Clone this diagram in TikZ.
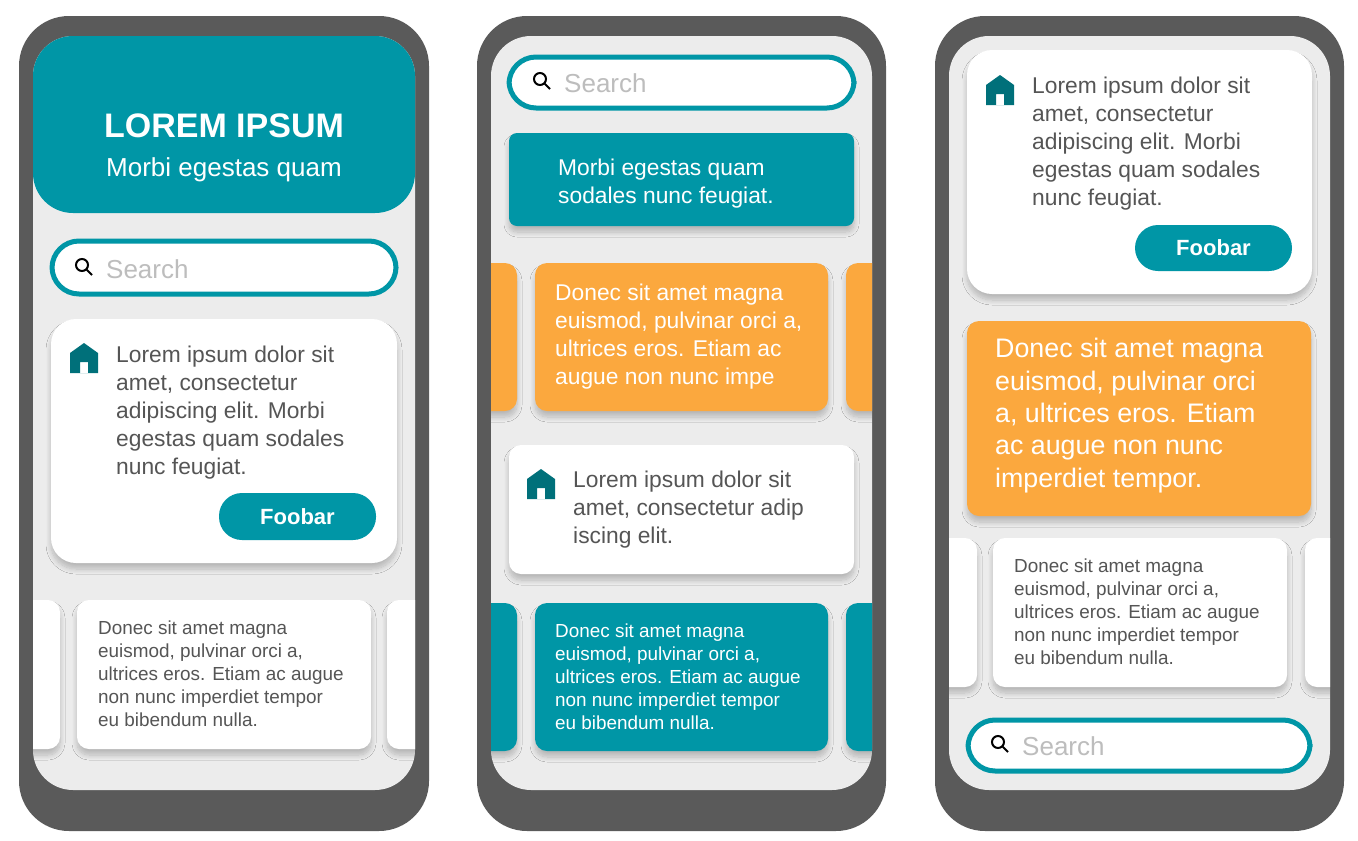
\documentclass[tikz,border=0pt]{standalone}
\usepackage{fontspec}
\setmainfont{Liberation Sans}
\usetikzlibrary{shadows.blur}
\definecolor{teal1}{HTML}{0096A6}
\definecolor{tealdk}{HTML}{00707A}
\definecolor{orng}{HTML}{FBA83E}
\definecolor{phone}{HTML}{5A5A5A}
\definecolor{scr}{HTML}{ECECEC}
\definecolor{txt}{HTML}{555555}
\definecolor{ph}{HTML}{BDBDBD}
\tikzset{
  body/.style={fill=phone,rounded corners=50},
  screen/.style={fill=scr,rounded corners=40},
  shd/.style={blur shadow={shadow xshift=0pt,shadow yshift=-6pt,shadow blur radius=5pt,shadow blur steps=10,shadow opacity=22}},
  card/.style={fill=white,rounded corners=25,shd},
  tcard/.style={fill=#1,rounded corners=12,shd},
  sbox/.style={draw=teal1,line width=5pt,fill=white,rounded corners=27},
  btn/.style={fill=teal1,rounded corners=23},
  tx/.style={anchor=base west,align=left,inner sep=0,text=txt},
  wt/.style={anchor=base west,align=left,inner sep=0,text=white},
  big/.style={font=\fontsize{22.8}{28}\selectfont},
  small/.style={font=\fontsize{18.9}{23}\selectfont},
  huge/.style={font=\fontsize{26.8}{32.3}\selectfont},
  stxt/.style={anchor=base west,inner sep=0,text=ph,font=\fontsize{26}{30}\selectfont},
}
\newcommand{\myhouse}[2]{\fill[tealdk,even odd rule] (#1,#2-15) -- (#1+14,#2-5) -- (#1+14,#2+15) -- (#1-14,#2+15) -- (#1-14,#2-5) -- cycle (#1-4,#2+4) rectangle (#1+4,#2+15);}
\newcommand{\mymag}[2]{\draw[line width=2pt,black] (#1-2,#2-3) circle (6) (#1+2,#2+1) -- (#1+8,#2+7);}
\begin{document}
\begin{tikzpicture}[x=1pt,y=-1pt]
\useasboundingbox (0,0) rectangle (1358,841);
\fill[white] (0,0) rectangle (1358,841);
% ===== Phone 1
\fill[body] (19,16) rectangle (429,831);
\fill[screen] (33,36) rectangle (415,790);
\fill[teal1,rounded corners=40] (33,36) rectangle (415,213);
\node[text=white,font=\bfseries\fontsize{34}{40}\selectfont] (t1) at (224,126) {LOREM IPSUM};
\node[text=white,font=\fontsize{26}{30}\selectfont] (t2) at (224,170) {Morbi egestas quam};
\draw[sbox] (52,241) rectangle (396,294);
\mymag{84}{268}
\node[stxt] (s1) at (106,278) {Search};
\fill[card] (51,319) rectangle (397,563);
\myhouse{84}{358}
\node[tx,big] (c1) at (116,474) {Lorem ipsum dolor sit\\amet, consectetur\\adipiscing elit. Morbi\\egestas quam sodales\\nunc feugiat.};
\fill[btn] (219,493) rectangle (376,540);
\node[text=white,font=\bfseries\fontsize{22}{26}\selectfont] (b1) at (297.5,517) {Foobar};
\begin{scope}
\clip[rounded corners=40] (33,36) rectangle (415,790);
\fill[tcard=white] (10,600) rectangle (60,749);
\fill[tcard=white] (387,600) rectangle (440,749);
\end{scope}
\fill[tcard=white] (77,600) rectangle (371,749);
\node[tx,small] (d1) at (98,726) {Donec sit amet magna\\euismod, pulvinar orci a,\\ultrices eros. Etiam ac augue\\non nunc imperdiet tempor\\eu bibendum nulla.};
% ===== Phone 2
\fill[body] (477,16) rectangle (886,831);
\fill[screen] (491,36) rectangle (872,790);
\draw[sbox] (509,57) rectangle (854,108);
\mymag{542}{82}
\node[stxt] (s2) at (564,92) {Search};
\fill[tcard=teal1,rounded corners=8] (509,133) rectangle (854,226);
\node[wt,big] (m2) at (558,203) {Morbi egestas quam\\sodales nunc feugiat.};
\begin{scope}
\clip[rounded corners=40] (491,36) rectangle (872,790);
\fill[tcard=orng] (470,263) rectangle (517,411);
\fill[tcard=orng] (846,263) rectangle (895,411);
\fill[tcard=teal1] (470,603) rectangle (517,751);
\fill[tcard=teal1] (846,603) rectangle (895,751);
\end{scope}
\fill[tcard=orng] (535,263) rectangle (828,411);
\node[wt,big] (o2) at (555,384) {Donec sit amet magna\\euismod, pulvinar orci a,\\ultrices eros. Etiam ac\\augue non nunc impe};
\fill[tcard=white] (509,445) rectangle (854,574);
\myhouse{541}{484}
\node[tx,big] (c2) at (573,543) {Lorem ipsum dolor sit\\amet, consectetur adip\\iscing elit.};
\fill[tcard=teal1] (535,603) rectangle (828,751);
\node[wt,small] (d2) at (555,729) {Donec sit amet magna\\euismod, pulvinar orci a,\\ultrices eros. Etiam ac augue\\non nunc imperdiet tempor\\eu bibendum nulla.};
% ===== Phone 3
\fill[body] (935,16) rectangle (1344,831);
\fill[screen] (949,36) rectangle (1330,790);
\fill[card] (967,50) rectangle (1312,294);
\myhouse{1000}{90}
\node[tx,big] (c3) at (1032,205) {Lorem ipsum dolor sit\\amet, consectetur\\adipiscing elit. Morbi\\egestas quam sodales\\nunc feugiat.};
\fill[btn] (1135,225) rectangle (1292,271);
\node[text=white,font=\bfseries\fontsize{22}{26}\selectfont] (b3) at (1213.5,248) {Foobar};
\fill[tcard=orng] (967,321) rectangle (1311,516);
\node[wt,huge] (o3) at (995,487) {Donec sit amet magna\\euismod, pulvinar orci\\a, ultrices eros. Etiam\\ac augue non nunc\\imperdiet tempor.};
\begin{scope}
\clip[rounded corners=40] (949,36) rectangle (1330,790);
\fill[tcard=white] (925,538) rectangle (977,687);
\fill[tcard=white] (1305,538) rectangle (1355,687);
\end{scope}
\fill[tcard=white] (993,538) rectangle (1287,687);
\node[tx,small] (d3) at (1014,664) {Donec sit amet magna\\euismod, pulvinar orci a,\\ultrices eros. Etiam ac augue\\non nunc imperdiet tempor\\eu bibendum nulla.};
\draw[sbox] (968,720) rectangle (1310,771);
\mymag{1000}{745}
\node[stxt] (s3) at (1022,755) {Search};
\end{tikzpicture}
\end{document}
